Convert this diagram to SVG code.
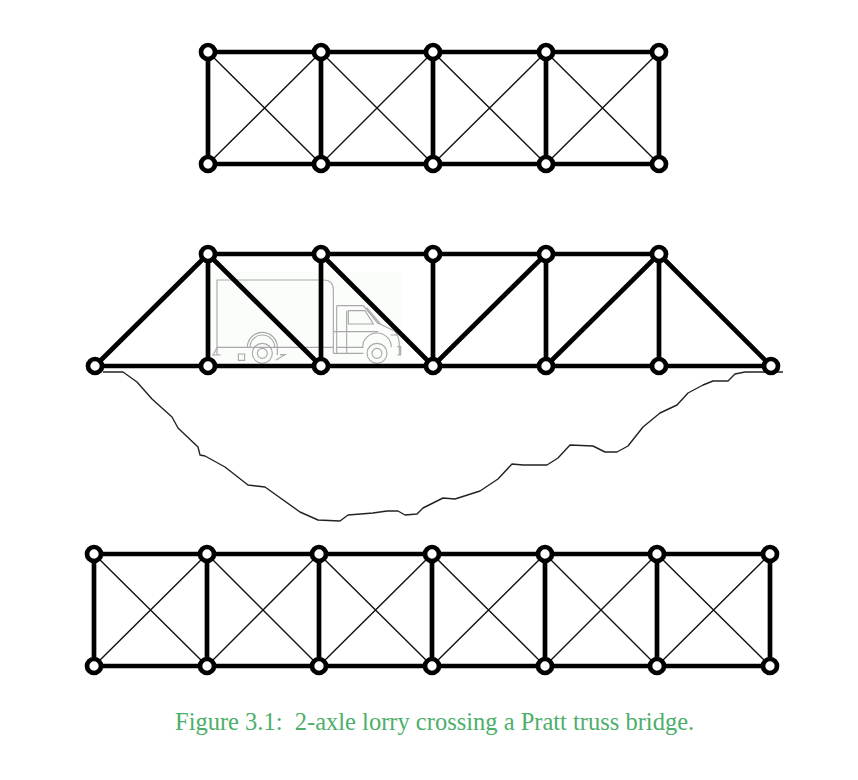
<svg xmlns="http://www.w3.org/2000/svg" width="858" height="780" viewBox="0 0 858 780">
<style>
.c{stroke:#000;stroke-width:4.7;stroke-linecap:round;fill:none}
.t{stroke:#111;stroke-width:1.4;fill:none}
.n{fill:#fff;stroke:#000;stroke-width:4.7}
.g{stroke:#222;stroke-width:1.4;fill:none;stroke-linejoin:round}
.k{stroke:#a8a8a8;stroke-width:3.4;fill:none}
.cap{font-family:"Liberation Serif","Times New Roman",serif;font-size:24.5px;fill:#4caf6a;white-space:pre}
</style>
<defs><circle id="j" r="7" class="n"/></defs>
<rect width="858" height="780" fill="#fff"/>
<g id="lorry" transform="translate(190 240) scale(.33333)">
<rect x="60" y="95" width="575" height="295" fill="#fbfdfb"/>
<path class="k" d="M81 345V120H400Q430 120 430 150V340M81 322H430M66 345H92M70 345L81 322M440 197H520L565 250L612 272Q628 285 628 318V345M440 197V340M475 212H525L550 252H475ZM520 197L565 252M530 203L572 252M430 275H565M470 212V340M440 322H520M602 285H620M622 320H632V345H622M430 340H520"/>
<circle class="k" cx="217" cy="340" r="30"/><circle class="k" cx="217" cy="340" r="15"/>
<path class="k" d="M172 322A45 45 0 0 1 262 322M180 322A37 37 0 0 1 254 322M262 322V345M145 342H164V361H145ZM258 360L285 344H270"/>
<circle class="k" cx="561" cy="340" r="30"/><circle class="k" cx="561" cy="340" r="15"/>
<path class="k" d="M518 322A43 43 0 0 1 604 322"/>
</g>
<g id="connectors">
<g id="top-truss-members">
<path class="c" d="M208 52H659M208 164H659M208 52V164M321 52V164M433 52V164M546 52V164M659 52V164"/>
<path class="t" d="M208 52L321 164M321 52L208 164M321 52L433 164M433 52L321 164M433 52L546 164M546 52L433 164M546 52L659 164M659 52L546 164"/>
</g>
<g id="middle-truss-members">
<path class="c" d="M208 254H659M95 366H771M95 366L208 254L321 366M321 254L433 366L546 254M546 366L659 254L771 366M208 254V366M321 254V366M433 254V366M546 254V366M659 254V366"/>
</g>
<g id="bottom-truss-members">
<path class="c" d="M94 554H770M94 666H770M94 554V666M207 554V666M319 554V666M432 554V666M545 554V666M657 554V666M770 554V666"/>
<path class="t" d="M94 554L207 666M207 554L94 666M207 554L319 666M319 554L207 666M319 554L432 666M432 554L319 666M432 554L545 666M545 554L432 666M545 554L657 666M657 554L545 666M657 554L770 666M770 554L657 666"/>
</g>
</g>
<path id="ground" class="g" d="M103 372L123 372L137 382L152 399L172 417L178 428L198 447L200 455L205 456L225 467L248 485L265 487L300 512L318 520L340 521L348 515L373 513L387 511L398 511L405 515L417 514L423 508L443 498L455 499L480 491L498 479L512 464L523 465L547 465L558 458L570 445L593 446L605 452L617 452L628 446L643 427L660 413L677 405L688 393L703 385L713 381L728 381L735 374L745 372L783 372"/>
<g id="n-t1"><use href="#j" x="208" y="52"/></g><g id="n-t2"><use href="#j" x="321" y="52"/></g><g id="n-t3"><use href="#j" x="433" y="52"/></g><g id="n-t4"><use href="#j" x="546" y="52"/></g><g id="n-t5"><use href="#j" x="659" y="52"/></g>
<g id="n-u1"><use href="#j" x="208" y="164"/></g><g id="n-u2"><use href="#j" x="321" y="164"/></g><g id="n-u3"><use href="#j" x="433" y="164"/></g><g id="n-u4"><use href="#j" x="546" y="164"/></g><g id="n-u5"><use href="#j" x="659" y="164"/></g>
<g id="n-m1"><use href="#j" x="208" y="254"/></g><g id="n-m2"><use href="#j" x="321" y="254"/></g><g id="n-m3"><use href="#j" x="433" y="254"/></g><g id="n-m4"><use href="#j" x="546" y="254"/></g><g id="n-m5"><use href="#j" x="659" y="254"/></g>
<g id="n-l0"><use href="#j" x="95" y="366"/></g><g id="n-l1"><use href="#j" x="208" y="366"/></g><g id="n-l2"><use href="#j" x="321" y="366"/></g><g id="n-l3"><use href="#j" x="433" y="366"/></g><g id="n-l4"><use href="#j" x="546" y="366"/></g><g id="n-l5"><use href="#j" x="659" y="366"/></g><g id="n-l6"><use href="#j" x="771" y="366"/></g>
<g id="n-b0"><use href="#j" x="94" y="554"/></g><g id="n-b1"><use href="#j" x="207" y="554"/></g><g id="n-b2"><use href="#j" x="319" y="554"/></g><g id="n-b3"><use href="#j" x="432" y="554"/></g><g id="n-b4"><use href="#j" x="545" y="554"/></g><g id="n-b5"><use href="#j" x="657" y="554"/></g><g id="n-b6"><use href="#j" x="770" y="554"/></g>
<g id="n-c0"><use href="#j" x="94" y="666"/></g><g id="n-c1"><use href="#j" x="207" y="666"/></g><g id="n-c2"><use href="#j" x="319" y="666"/></g><g id="n-c3"><use href="#j" x="432" y="666"/></g><g id="n-c4"><use href="#j" x="545" y="666"/></g><g id="n-c5"><use href="#j" x="657" y="666"/></g><g id="n-c6"><use href="#j" x="770" y="666"/></g>
<text id="caption" class="cap" x="175" y="730">Figure 3.1:  2-axle lorry crossing a Pratt truss bridge.</text>
</svg>
